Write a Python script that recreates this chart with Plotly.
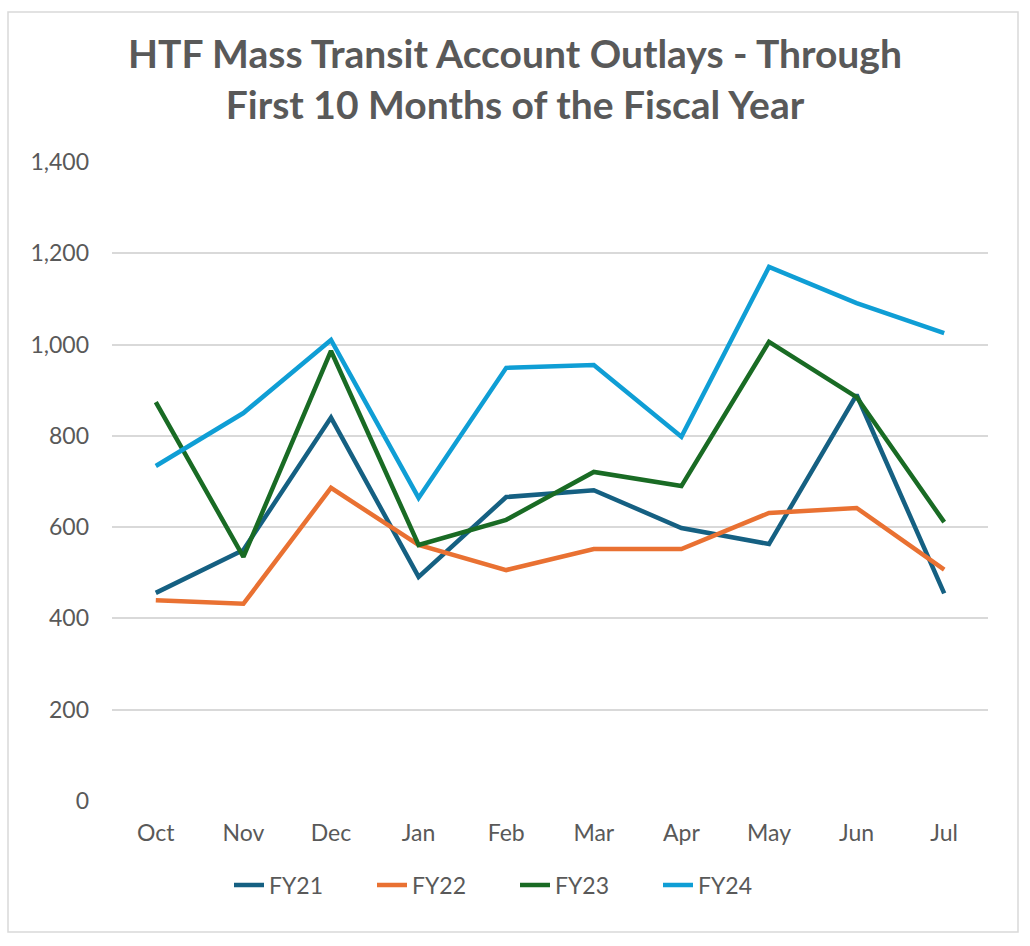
import plotly.graph_objects as go

months = ["Oct", "Nov", "Dec", "Jan", "Feb", "Mar", "Apr", "May", "Jun", "Jul"]
fy21 = [456, 550, 840, 491, 666, 681, 598, 563, 890, 455]
fy22 = [440, 432, 686, 561, 506, 552, 552, 631, 642, 507]
fy23 = [874, 535, 986, 561, 616, 721, 690, 1006, 885, 611]
fy24 = [734, 850, 1010, 664, 949, 955, 798, 1170, 1091, 1025]
series_names = ["FY21", "FY22", "FY23", "FY24"]
colors = ["#156082", "#E97132", "#196B24", "#0F9ED5"]
y_ticks = [0, 200, 400, 600, 800, 1000, 1200, 1400]

FONT = "Lato"
GRAY = "#595959"

fig = go.Figure()
for name, vals, c in zip(series_names, [fy21, fy22, fy23, fy24], colors):
    fig.add_trace(go.Scatter(x=months, y=vals, name=name, mode="lines",
                             line=dict(color=c, width=4.5)))

W, H = 1030, 946
L, R, T, B = 112, 42, 162, 145
pw, ph = W - L - R, H - T - B

def px_x(x):
    return (x - L) / pw

def px_y(y):
    return (H - B - y) / ph

fig.update_layout(
    width=W, height=H,
    margin=dict(l=L, r=R, t=T, b=B),
    paper_bgcolor="white", plot_bgcolor="white",
    font=dict(family=FONT, color=GRAY, size=23),
    title=dict(text="HTF Mass Transit Account Outlays - Through<br>First 10 Months of the Fiscal Year",
               x=0.5, xanchor="center", y=1 - 68 / H, yanchor="middle",
               font=dict(family=FONT, size=39, color=GRAY, weight="bold")),
    xaxis=dict(type="category", range=[-0.5, 9.5], showgrid=False, showline=False,
               ticks="", tickfont=dict(size=23, color=GRAY), ticklabelstandoff=16),
    yaxis=dict(range=[0, 1400], tickvals=y_ticks, tickformat=",", showgrid=True,
               gridcolor="#d9d9d9", gridwidth=1.5, zeroline=False, showline=False,
               ticks="", tickfont=dict(size=23, color=GRAY), ticklabelstandoff=22),
    legend=dict(orientation="h", x=0.5, xanchor="center", xref="container",
                y=1 - 885 / H, yanchor="middle", yref="container",
                font=dict(size=23, color=GRAY), entrywidth=98, entrywidthmode="pixels",
                tracegroupgap=0),
    shapes=[dict(type="rect", xref="paper", yref="paper",
                 x0=px_x(8), x1=px_x(1018), y0=px_y(932), y1=px_y(12),
                 line=dict(color="#d9d9d9", width=1.5), fillcolor="rgba(0,0,0,0)", layer="below")],
    showlegend=True,
)

fig.write_html("out.html")
